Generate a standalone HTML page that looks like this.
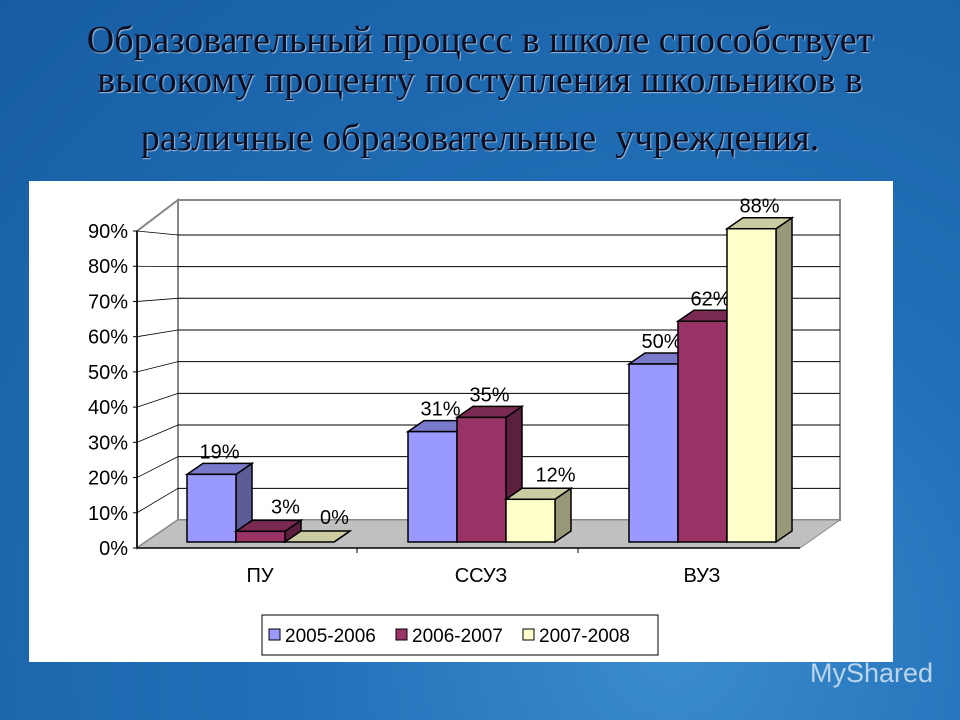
<!DOCTYPE html>
<html><head><meta charset="utf-8"><style>
html,body{margin:0;padding:0;width:960px;height:720px;overflow:hidden}
body{background:radial-gradient(ellipse at 70% 90%,#3a8ccf 0%,#2270b8 40%,#175da3 100%);position:relative;font-family:"Liberation Sans",sans-serif}
.title{position:absolute;left:0;width:960px;text-align:center;font-family:"Liberation Serif",serif;font-size:38px;color:#0e0e22;text-shadow:1px 1px 1px #9fc0e0;line-height:40px;white-space:nowrap}
</style></head><body>
<div class="title" style="top:20px">Образовательный процесс в школе способствует<br>высокому проценту поступления школьников в</div>
<div class="title" style="top:118px">различные образовательные&nbsp; учреждения.</div>
<svg id="chart" width="960" height="720" style="position:absolute;left:0;top:0;font-family:'Liberation Sans',sans-serif"></svg>
<div style="position:absolute;left:810px;top:658px;color:#dfeaf5;font-size:27px;opacity:.8">MyShared</div>
<script>
const categories=["ПУ","ССУЗ","ВУЗ"];
const series=["2005-2006","2006-2007","2007-2008"];
const s1=[19,31,50];
const s2=[3,35,62];
const s3=[0,12,88];
const ticks=[0,10,20,30,40,50,60,70,80,90];
const vals=[s1,s2,s3];
const fills=["#9999ff","#993366","#ffffcc"],tops=["#7a7acc","#7a2952","#cccca3"],sides=["#5c5c99","#5c1f3d","#999979"];
const svg=document.getElementById('chart');const NS="http://www.w3.org/2000/svg";
function mk(t,a,p){const e=document.createElementNS(NS,t);for(const k in a)e.setAttribute(k,a[k]);(p||svg).appendChild(e);return e;}
const bg=mk('rect',{x:29,y:181,width:864,height:481,fill:'#fff'});


const fy=v=>548-v*3.522, by=v=>520-v*3.167;
const FX=137,BX=178,RX=840,FR=800;
mk('polygon',{points:`${BX},200 ${RX},200 ${RX},520 ${BX},520`,fill:'#fff',stroke:'#888','stroke-width':2});
mk('polygon',{points:`${FX},${fy(90)} ${BX},200 ${BX},520 ${FX},548`,fill:'#fff',stroke:'#888','stroke-width':2});
mk('polygon',{points:`${FX},548 ${BX},520 ${RX},520 ${FR},548`,fill:'#c0c0c0',stroke:'#888','stroke-width':1});
ticks.forEach(t=>{if(t>0){const g=mk('line',{x1:BX,y1:by(t),x2:RX,y2:by(t),stroke:'#000','stroke-width':1});
mk('line',{x1:FX,y1:fy(t),x2:BX,y2:by(t),stroke:'#000','stroke-width':0.8});}
const tx=mk('text',{x:128,y:fy(t)+7,'text-anchor':'end','font-size':'20px'});tx.textContent=t+'%';
mk('line',{x1:FX-4,y1:fy(t),x2:FX,y2:fy(t),stroke:'#000'});});
mk('line',{x1:FX,y1:548,x2:FX,y2:fy(90),stroke:'#000','stroke-width':1.5});
mk('line',{x1:FX,y1:548,x2:FR,y2:548,stroke:'#000','stroke-width':1.5});
[357,578].forEach(x=>mk('line',{x1:x,y1:548,x2:x,y2:553,stroke:'#000'}));
const bw=49,dx=16,dy=11,base=542,k=3.56;
categories.forEach((c,i)=>{const gx=187+i*221;
const cl=mk('text',{x:gx+73,y:582,'text-anchor':'middle','font-size':'20px'});cl.textContent=c;
vals.forEach((s,j)=>{const x=gx+j*bw,h=s[i]*k,y=base-h;
const g=mk('g',{});
mk('polygon',{points:`${x+bw},${y} ${x+bw+dx},${y-dy} ${x+bw+dx},${base-dy} ${x+bw},${base}`,fill:sides[j],stroke:'#000','stroke-width':1.5},g);
mk('polygon',{points:`${x},${y} ${x+dx},${y-dy} ${x+bw+dx},${y-dy} ${x+bw},${y}`,fill:tops[j],stroke:'#000','stroke-width':1.5},g);
if(h>0)mk('rect',{x:x,y:y,width:bw,height:h,fill:fills[j],stroke:'#000','stroke-width':1.5},g);
const l=mk('text',{x:x+bw/2+(s[i]<15?25:8),y:y-(s[i]<15?18:16),'text-anchor':'middle','font-size':'20px'});l.textContent=s[i]+'%';});});
const lg=mk('g',{});
mk('rect',{x:262,y:615,width:396,height:40,fill:'#fff',stroke:'#000'},lg);
series.forEach((s,j)=>{const x=269+j*127;const e=mk('g',{},lg);
mk('rect',{x:x,y:629,width:11,height:11,fill:fills[j],stroke:'#000'},e);
const t=mk('text',{x:x+16,y:642,'font-size':'19px'},e);t.textContent=s;});
</script>
</body></html>
